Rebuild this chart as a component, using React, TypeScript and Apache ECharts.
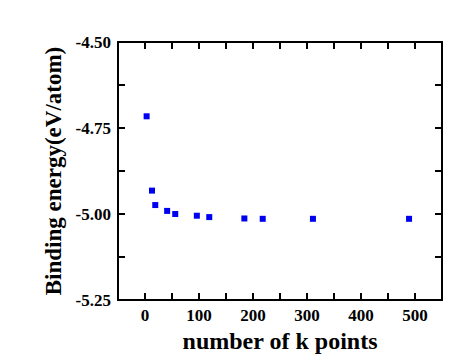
import React, { useEffect, useRef } from "react";
import * as echarts from "echarts";

const kPoints = [3, 13, 19, 41, 56, 96, 119, 184, 218, 311, 489];
const energies = [-4.716, -4.932, -4.974, -4.991, -5.0, -5.005, -5.009, -5.013, -5.014, -5.014, -5.014];
const xTitle = "number of k points";
const yTitle = "Binding energy(eV/atom)";

const FONT = "Liberation Serif";

function line() {
  return { show: true, onZero: false, lineStyle: { color: "#000", width: 2 } };
}
function tick() {
  return { show: true, inside: true, length: 7, lineStyle: { color: "#000", width: 2 } };
}

export default function App() {
  const ref = useRef<HTMLDivElement>(null);
  useEffect(() => {
    const chart = echarts.init(ref.current!, null, { renderer: "svg" });
    const xLabelFmt = (v: number) => (Math.abs(v % 100) < 1e-9 ? String(v) : "");
    const yLabelFmt = (v: number) =>
      Math.abs(v * 4 - Math.round(v * 4)) < 1e-9 ? v.toFixed(2) : "";
    const blank = () => "";
    chart.setOption({
      animation: false,
      grid: { left: 118, right: 32, top: 42, bottom: 62, outerBoundsMode: "none" },
      xAxis: [
        {
          type: "value",
          min: -50,
          max: 550,
          interval: 50,
          name: xTitle,
          nameLocation: "middle",
          nameGap: 29,
          nameTextStyle: { fontFamily: FONT, fontWeight: "bold", fontSize: 24, color: "#000" },
          axisLine: line(),
          axisTick: tick(),
          axisLabel: { formatter: xLabelFmt, fontFamily: FONT, fontWeight: "bold", fontSize: 17, color: "#000", margin: 7 },
          splitLine: { show: false },
        },
        {
          type: "value",
          position: "top",
          min: -50,
          max: 550,
          interval: 50,
          axisLine: line(),
          axisTick: tick(),
          axisLabel: { formatter: blank },
          splitLine: { show: false },
        },
      ],
      yAxis: [
        {
          type: "value",
          min: -5.25,
          max: -4.5,
          interval: 0.125,
          name: yTitle,
          nameLocation: "middle",
          nameGap: 50,
          nameTextStyle: { fontFamily: FONT, fontWeight: "bold", fontSize: 23, color: "#000" },
          axisLine: line(),
          axisTick: tick(),
          axisLabel: { formatter: yLabelFmt, fontFamily: FONT, fontWeight: "bold", fontSize: 17, color: "#000", margin: 7 },
          splitLine: { show: false },
        },
        {
          type: "value",
          position: "right",
          min: -5.25,
          max: -4.5,
          interval: 0.125,
          axisLine: line(),
          axisTick: tick(),
          axisLabel: { formatter: blank },
          splitLine: { show: false },
        },
      ],
      series: [
        {
          type: "scatter",
          xAxisIndex: 0,
          yAxisIndex: 0,
          symbol: "rect",
          symbolSize: 6,
          itemStyle: { color: "#0000f0", opacity: 1 },
          data: kPoints.map((k, i) => [k, energies[i]]),
        },
      ],
    });
    return () => chart.dispose();
  }, []);
  return <div ref={ref} style={{ width: 474, height: 362, position: "absolute", left: 0, top: 0, background: "#fff" }} />;
}
